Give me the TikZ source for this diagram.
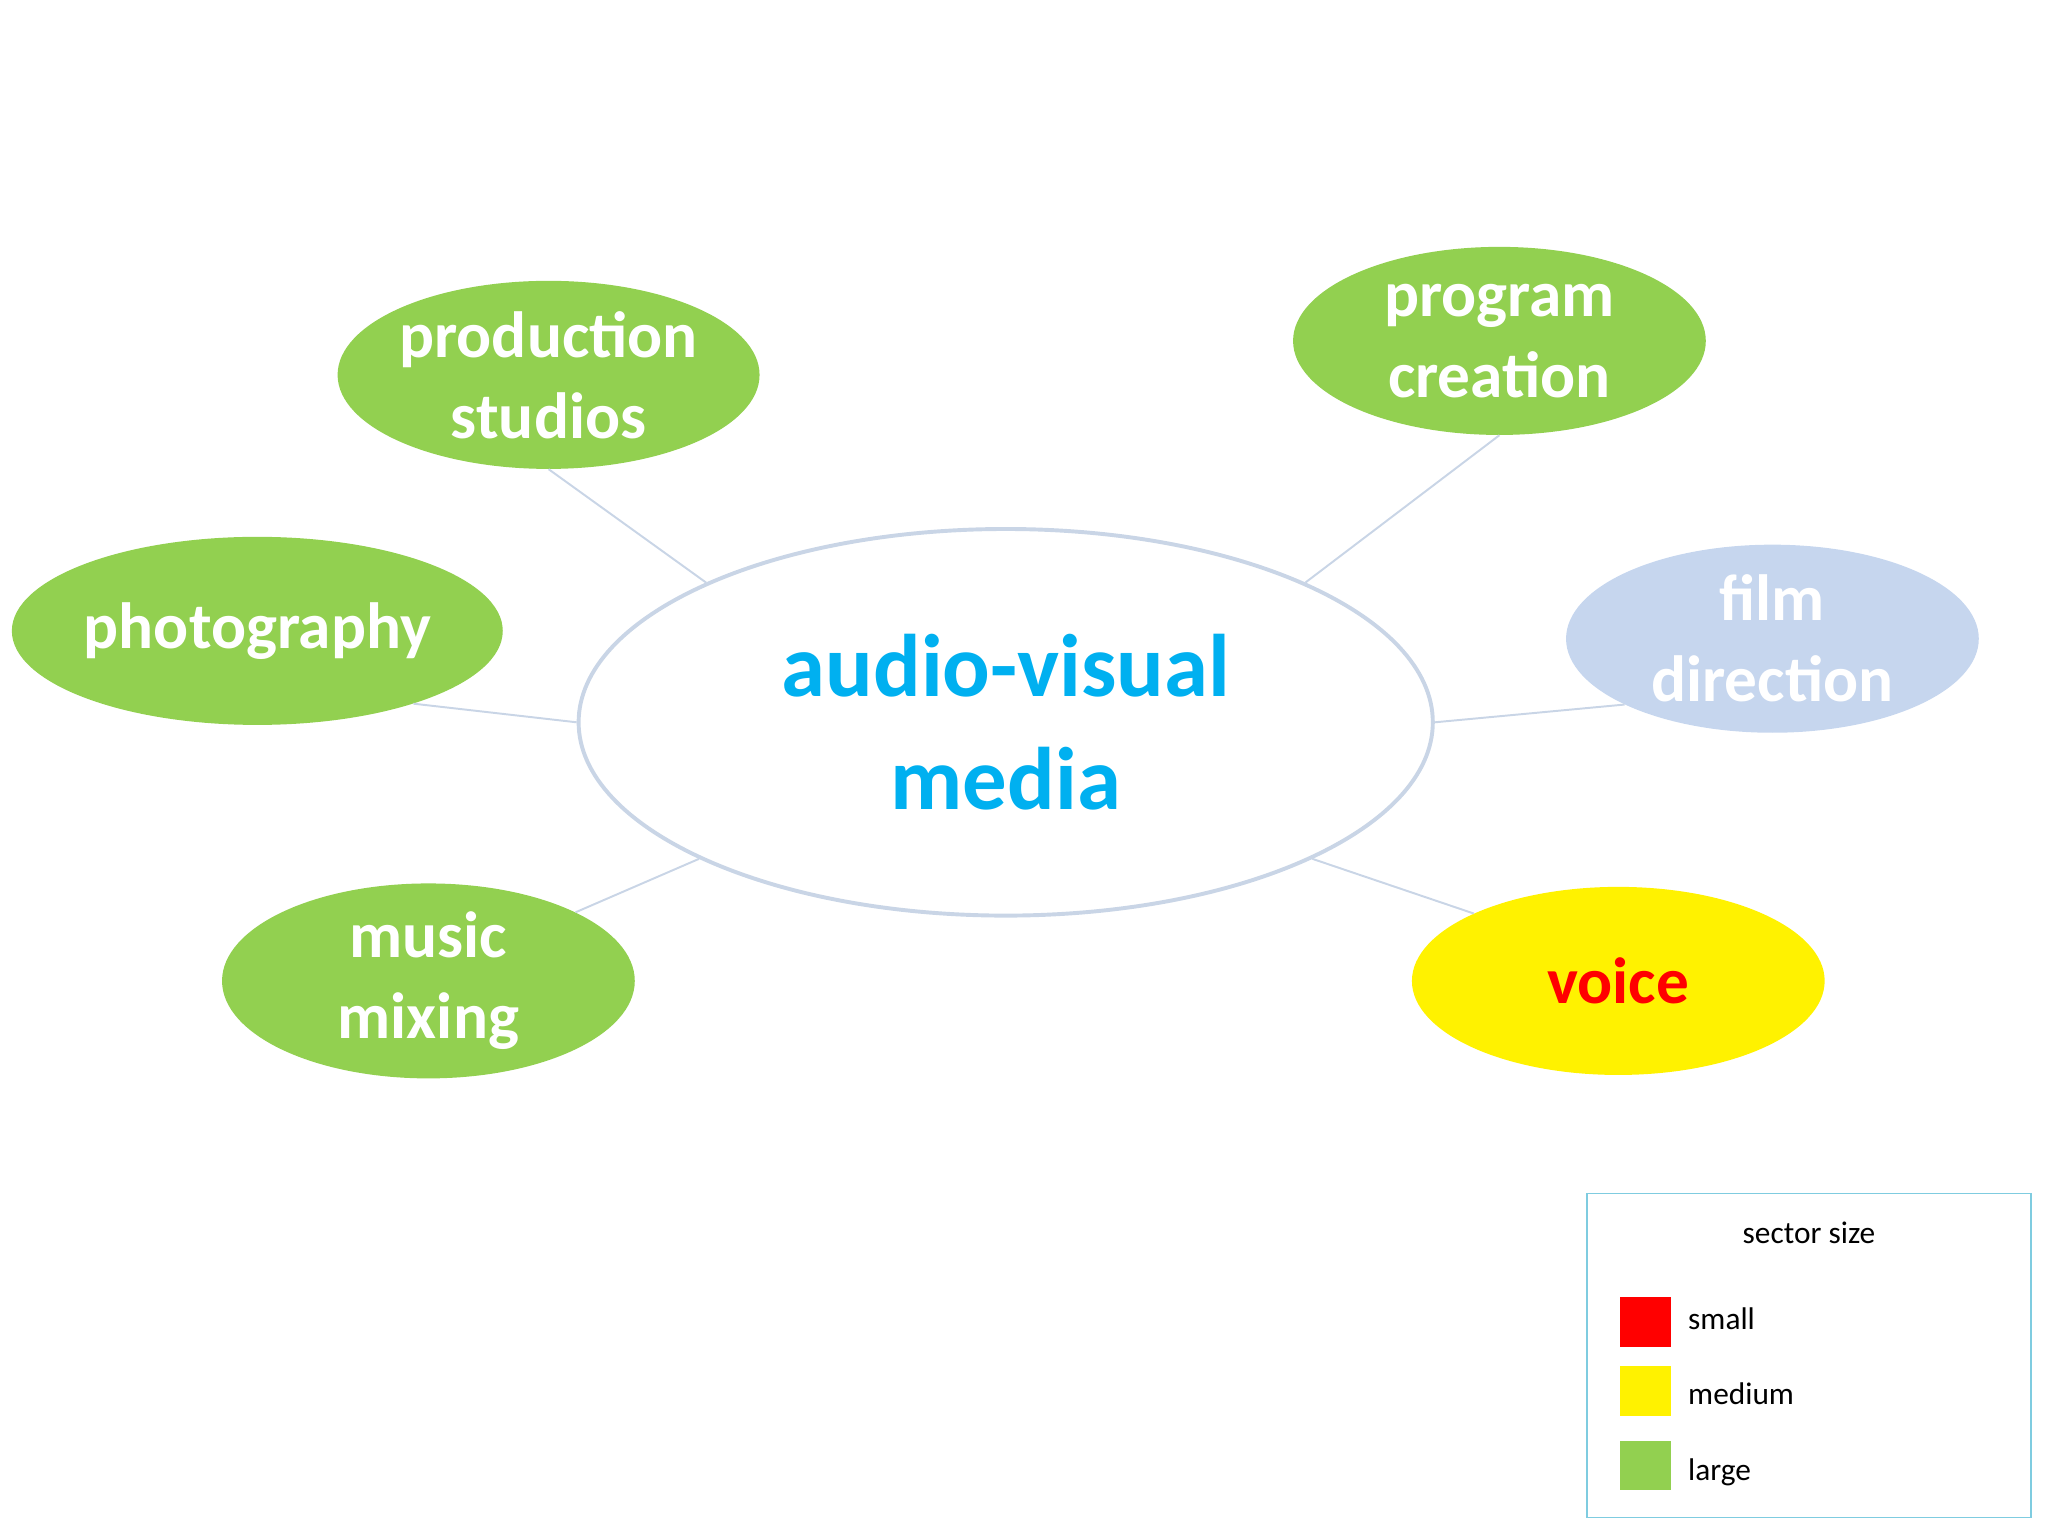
\documentclass[tikz,border=0pt]{standalone}
\usepackage{fontspec}
\setmainfont{Carlito}
\usetikzlibrary{shapes.geometric}
\definecolor{grn}{HTML}{92D050}
\definecolor{lblue}{HTML}{C6D6EE}
\definecolor{cyanT}{HTML}{00B0F0}
\definecolor{lnk}{HTML}{C9D5E6}
\definecolor{legb}{HTML}{7FCCE0}
\begin{document}
\begin{tikzpicture}[x=1pt,y=-1pt,
  sat/.style={ellipse,minimum width=316pt,minimum height=144pt,inner sep=0pt,fill=grn,text=white,align=center,font=\bfseries\fontsize{50}{62}\selectfont},
  lnkline/.style={draw=lnk,line width=1.5pt},
  sw/.style={minimum width=39pt,minimum height=38pt,inner sep=0pt},
  leg/.style={anchor=west,font=\fontsize{24}{28}\selectfont}]
\useasboundingbox (0,0) rectangle (1568,1176);
\node[ellipse,draw=lnk,line width=3pt,fill=white,minimum width=654pt,minimum height=296pt,inner sep=0pt,text=cyanT,align=center,font=\bfseries\fontsize{68}{86}\selectfont] (c) at (770,553) {audio-visual\\media};
\node[sat] (ps) at (420,287) {production\\studios};
\node[sat] (pc) at (1148,261) {program\\creation};
\node[sat] (ph) at (197,483) {photography};
\node[sat,fill=lblue] (fd) at (1357,489) {film\\direction};
\node[sat] (mm) at (328,751) {music\\mixing};
\node[sat,fill=yellow,text=red] (vo) at (1239,751) {voice};
\draw[lnkline] (ps.south) -- (c.155);
\draw[lnkline] (pc.south) -- (c.25);
\draw[lnkline] (ph.-25) -- (c.180);
\draw[lnkline] (fd.204) -- (c.0);
\draw[lnkline] (mm.25) -- (c.204);
\draw[lnkline] (vo.155) -- (c.-24);
\node[draw=legb,line width=1pt,minimum width=340pt,minimum height=248pt,inner sep=0pt] (lg) at (1385,1038) {};
\node[font=\fontsize{24}{28}\selectfont] (lt) at (1385,944) {sector size};
\node[sw,fill=red] (s1) at (1260,1012) {};
\node[sw,fill=yellow] (s2) at (1260,1065) {};
\node[sw,fill=grn] (s3) at (1260,1122) {};
\node[leg] (l1) at (1289,1010) {small};
\node[leg] (l2) at (1289,1067) {medium};
\node[leg] (l3) at (1289,1127) {large};
\end{tikzpicture}
\end{document}
